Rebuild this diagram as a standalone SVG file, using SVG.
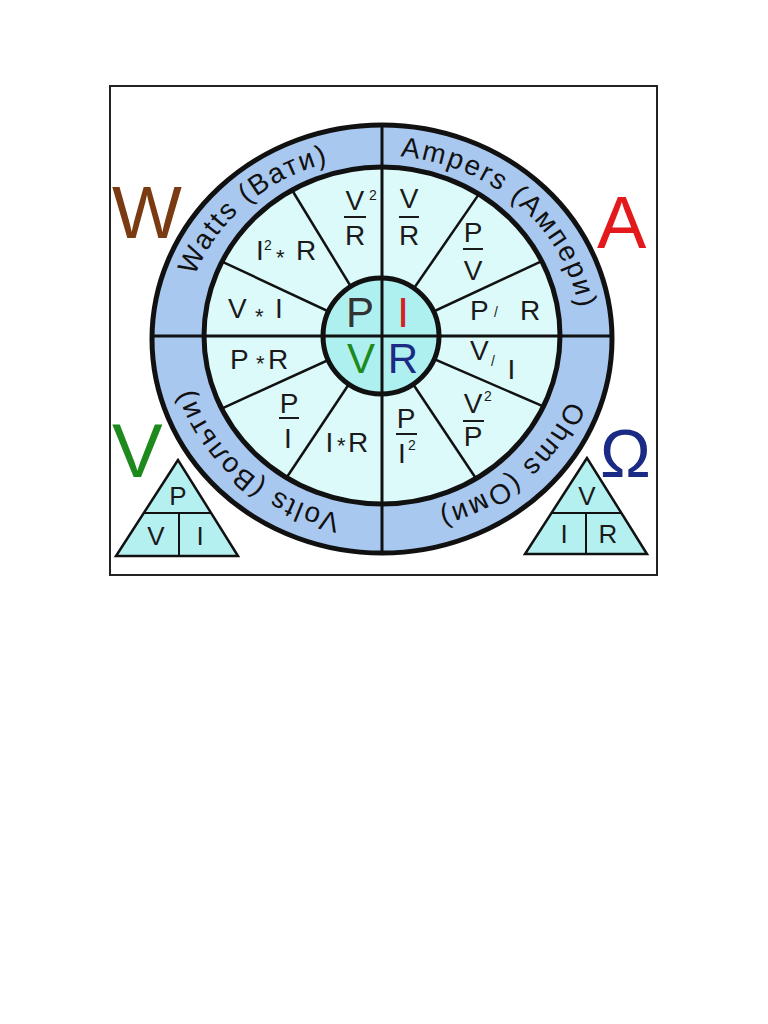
<svg xmlns="http://www.w3.org/2000/svg" width="768" height="1024" viewBox="0 0 768 1024">
<style>
  text { font-family: "Liberation Sans", Arial, sans-serif; }
  .lbl { font-size: 28px; fill: #1a1a1a; }
  .mid { text-anchor: middle; }
  .sup { font-size: 14px; }
  .ast { font-size: 22px; }
  .ring { font-size: 28px; fill: #111; letter-spacing: 2px; }
  .ctr { font-size: 42px; text-anchor: middle; }
  .bar { stroke: #1a1a1a; stroke-width: 2; }
  .spoke { stroke: #111; stroke-width: 2.5; }
  .axis { stroke: #111; stroke-width: 3; }
  .tri { fill: #b4f0f0; stroke: #111; stroke-width: 2.5; }
  .tline { stroke: #111; stroke-width: 2; }
  .tl { font-size: 26px; text-anchor: middle; fill: #1a1a1a; }
</style>
<defs>
  <path id="pWatts" d="M240.58,465.69 A200,182 0 0 1 523.42,208.31"/>
  <path id="pAmpers" d="M240.58,208.31 A200,182 0 0 1 523.42,465.69"/>
  <path id="pOhms" d="M523.42,208.31 A200,182 0 0 1 240.58,465.69"/>
  <path id="pVolts" d="M523.42,465.69 A200,182 0 0 1 240.58,208.31"/>
</defs>
<rect width="768" height="1024" fill="#ffffff"/>
<rect x="110" y="86" width="547" height="489" fill="#ffffff" stroke="#222" stroke-width="2"/>

<g id="wheel">
  <ellipse cx="382" cy="339" rx="230" ry="214" fill="#a9c8f0" stroke="#111" stroke-width="5"/>
  <ellipse cx="382" cy="335.5" rx="178" ry="168.5" fill="#dcfafa" stroke="#111" stroke-width="5"/>
</g>

<g id="connectors">
  <line class="spoke" x1="381" y1="336" x2="292" y2="190"/>
  <line class="spoke" x1="381" y1="336" x2="221.5" y2="261.3"/>
  <line class="spoke" x1="381" y1="336" x2="478.4" y2="194.9"/>
  <line class="spoke" x1="381" y1="336" x2="540.7" y2="261.7"/>
  <line class="spoke" x1="381" y1="336" x2="220.6" y2="409.1"/>
  <line class="spoke" x1="381" y1="336" x2="286" y2="478.5"/>
  <line class="spoke" x1="381" y1="336" x2="542.7" y2="406.2"/>
  <line class="spoke" x1="381" y1="336" x2="476" y2="478.5"/>
</g>

<g id="center">
  <circle cx="381" cy="336" r="58" fill="#aef0f0" stroke="#111" stroke-width="5"/>
</g>

<g id="axes">
  <line class="axis" x1="382" y1="125" x2="382" y2="553"/>
  <line class="axis" x1="152" y1="336" x2="612" y2="336"/>
</g>

<g id="center-letters">
  <text class="ctr" x="360" y="327" fill="#333333">P</text>
  <text class="ctr" x="403" y="327" fill="#d42020">I</text>
  <text class="ctr" x="361" y="373" fill="#1e8a1e">V</text>
  <text class="ctr" x="403" y="373" fill="#1b2a84">R</text>
</g>

<g id="ring-labels">
  <text class="ring"><textPath href="#pWatts" startOffset="50%" text-anchor="middle">Watts (Вати)</textPath></text>
  <text class="ring"><textPath href="#pAmpers" startOffset="50%" text-anchor="middle">Ampers (Ампери)</textPath></text>
  <text class="ring"><textPath href="#pOhms" startOffset="50%" text-anchor="middle">Ohms (Оми)</textPath></text>
  <text class="ring"><textPath href="#pVolts" startOffset="50%" text-anchor="middle">Volts (Вольти)</textPath></text>
</g>

<g id="sector-watts">
  <text class="lbl" y="210"><tspan x="345.5">V</tspan><tspan class="sup" x="369" dy="-10">2</tspan></text>
  <line class="bar" x1="344" y1="217" x2="366" y2="217"/>
  <text class="lbl mid" x="355" y="245">R</text>
  <text class="lbl" y="260"><tspan x="256">I</tspan><tspan class="sup" x="264" dy="-10">2</tspan><tspan class="ast" x="276" dy="15">*</tspan><tspan x="296" dy="-5">R</tspan></text>
  <text class="lbl" y="318"><tspan x="228">V</tspan><tspan class="ast" x="255" dy="6">*</tspan><tspan x="275" dy="-6">I</tspan></text>
</g>

<g id="sector-ampers">
  <text class="lbl mid" x="409" y="208">V</text>
  <line class="bar" x1="399" y1="217" x2="419" y2="217"/>
  <text class="lbl mid" x="409" y="245">R</text>
  <text class="lbl mid" x="473" y="242">P</text>
  <line class="bar" x1="463" y1="249" x2="483" y2="249"/>
  <text class="lbl mid" x="473" y="280">V</text>
  <text class="lbl" y="320"><tspan x="470">P</tspan><tspan x="494" dy="-3" font-size="14">/</tspan><tspan x="520" dy="3">R</tspan></text>
</g>

<g id="sector-volts">
  <text class="lbl" y="369"><tspan x="230">P</tspan><tspan class="ast" x="256" dy="2">*</tspan><tspan x="268" dy="-2">R</tspan></text>
  <text class="lbl mid" x="289" y="413">P</text>
  <line class="bar" x1="279" y1="418" x2="299" y2="418"/>
  <text class="lbl mid" x="288" y="448">I</text>
  <text class="lbl" y="452"><tspan x="325.5">I</tspan><tspan class="ast" x="337" dy="1">*</tspan><tspan x="348" dy="-1">R</tspan></text>
</g>

<g id="sector-ohms">
  <text class="lbl" y="360"><tspan x="470">V</tspan><tspan x="491" dy="6" font-size="14">/</tspan><tspan x="507.5" dy="13">I</tspan></text>
  <text class="lbl" y="413"><tspan x="463.7">V</tspan><tspan class="sup" x="484" dy="-12">2</tspan></text>
  <line class="bar" x1="463" y1="421" x2="484" y2="421"/>
  <text class="lbl mid" x="473" y="446">P</text>
  <text class="lbl mid" x="406" y="428">P</text>
  <line class="bar" x1="396" y1="434" x2="417" y2="434"/>
  <text class="lbl" y="463"><tspan x="398">I</tspan><tspan class="sup" x="408" dy="-13">2</tspan></text>
</g>

<g id="unit-letters">
  <text x="112" y="238" font-size="74" fill="#7a3b12">W</text>
  <text x="597" y="248" font-size="74" fill="#e3191c">A</text>
  <text x="112" y="477" font-size="76" fill="#1e8a1e">V</text>
  <text x="600" y="477" font-size="68" fill="#1b2a84">Ω</text>
</g>

<g id="triangle-left">
  <polygon class="tri" points="178,460 116,556 238,556"/>
  <line class="tline" x1="144" y1="513" x2="211" y2="513"/>
  <line class="tline" x1="179" y1="513" x2="179" y2="556"/>
  <text class="tl" x="178" y="505">P</text>
  <text class="tl" x="156" y="545">V</text>
  <text class="tl" x="200" y="545">I</text>
</g>

<g id="triangle-right">
  <polygon class="tri" points="587,458 525,554 647,554"/>
  <line class="tline" x1="552" y1="513" x2="621" y2="513"/>
  <line class="tline" x1="586" y1="513" x2="586" y2="554"/>
  <text class="tl" x="587" y="505">V</text>
  <text class="tl" x="564" y="543">I</text>
  <text class="tl" x="608" y="543">R</text>
</g>
</svg>
